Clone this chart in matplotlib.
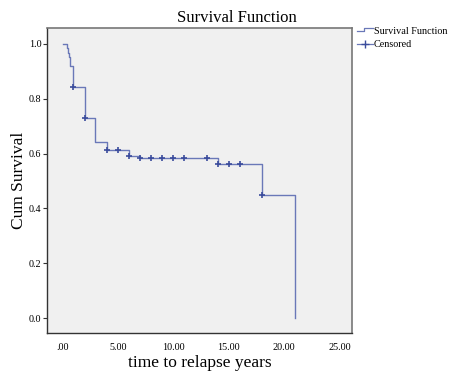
import matplotlib
matplotlib.use("Agg")
import matplotlib.pyplot as plt
from matplotlib.lines import Line2D
from matplotlib.legend_handler import HandlerBase

# ---- data ----
times = [0.0, 0.42, 0.50, 0.56, 0.62, 0.68, 0.96, 2.0, 2.95, 4.0, 6.0, 7.0, 14.0, 18.0, 21.0]
surv = [1.0, 0.984, 0.968, 0.952, 0.936, 0.92, 0.844, 0.731, 0.641, 0.614, 0.592, 0.583, 0.561, 0.448, 0.0]
cens_t = [0.96, 2.0, 4.0, 5.0, 6.0, 7.0, 8.0, 9.0, 10.0, 11.0, 13.0, 14.0, 15.0, 16.0, 18.0]
cens_s = [0.844, 0.731, 0.614, 0.614, 0.592, 0.583, 0.583, 0.583, 0.583, 0.583, 0.583, 0.561, 0.561, 0.561, 0.448]
xticks = [0, 5, 10, 15, 20, 25]
xticklabels = [".00", "5.00", "10.00", "15.00", "20.00", "25.00"]
yticks = [0.0, 0.2, 0.4, 0.6, 0.8, 1.0]
yticklabels = ["0.0", "0.2", "0.4", "0.6", "0.8", "1.0"]

line_c = "#6a78b8"
cens_c = "#3b4c9c"
serif = ["Liberation Serif", "DejaVu Serif"]

fig = plt.figure(figsize=(4.74, 3.79), dpi=100)
ax = fig.add_axes([0.099, 0.121, 0.643, 0.805])
ax.set_facecolor("#f0f0f0")

ax.step(times, surv, where="post", color=line_c, lw=1.0)
ax.plot(cens_t, cens_s, ls="none", marker="+", ms=5, mew=1.2, color=cens_c)

ax.set_xlim(-1.42, 26.1)
ax.set_ylim(-0.055, 1.058)
ax.set_xticks(xticks)
ax.set_xticklabels(xticklabels, family=serif, fontsize=7.3)
ax.set_yticks(yticks)
ax.set_yticklabels(yticklabels, family=serif, fontsize=7.3)
ax.tick_params(axis="x", length=0, pad=7)
ax.tick_params(axis="y", length=3, width=0.8, color="#333333", pad=1)
for s in ["left", "bottom"]:
    ax.spines[s].set_color("#333333")
    ax.spines[s].set_linewidth(1.0)
for s in ["top", "right"]:
    ax.spines[s].set_color("#777777")
    ax.spines[s].set_linewidth(1.2)

ax.set_xlabel("time to relapse years", family=serif, fontsize=12.5, labelpad=2)
ax.set_ylabel("Cum Survival", family=serif, fontsize=12.5, labelpad=1)
fig.text(0.5, 0.952, "Survival Function", family=serif, fontsize=12, ha="center", va="center")


class StepHandler(HandlerBase):
    def create_artists(self, legend, orig_handle, xdescent, ydescent, width, height, fontsize, trans):
        x0 = -xdescent
        yb = -ydescent + height * 0.3
        yt = -ydescent + height * 0.85
        l = Line2D([x0, x0 + width * 0.45, x0 + width * 0.45, x0 + width],
                   [yb, yb, yt, yt], color=line_c, lw=0.9, transform=trans)
        return [l]


class CensHandler(HandlerBase):
    def create_artists(self, legend, orig_handle, xdescent, ydescent, width, height, fontsize, trans):
        x0 = -xdescent
        ym = -ydescent + height * 0.5
        l = Line2D([x0, x0 + width], [ym, ym], color=line_c, lw=0.9, transform=trans)
        m = Line2D([x0 + width * 0.5], [ym], marker="+", ms=6, mew=1.0, color=cens_c, transform=trans)
        return [l, m]


h1 = Line2D([], [])
h2 = Line2D([], [], marker="+")
fig.legend([h1, h2], ["Survival Function", "Censored"],
           handler_map={h1: StepHandler(), h2: CensHandler()},
           loc="upper left", bbox_to_anchor=(0.754, 0.93), frameon=False,
           prop={"family": serif, "size": 7.3}, handlelength=1.5, handletextpad=0.1,
           labelspacing=0.45, borderpad=0, borderaxespad=0)

fig.savefig("out.png", dpi=100, facecolor="white")
